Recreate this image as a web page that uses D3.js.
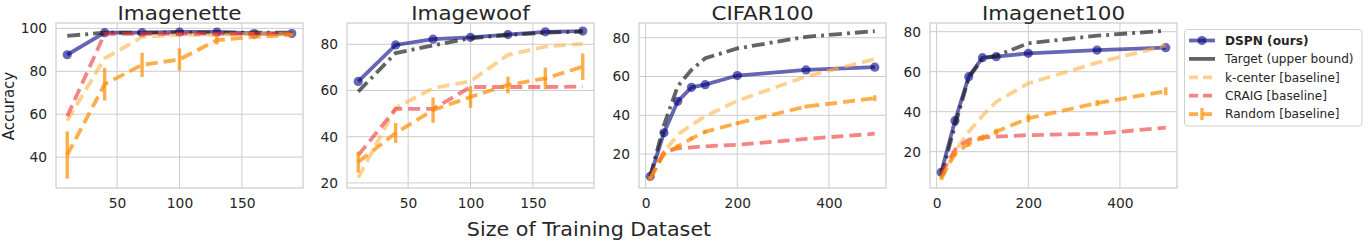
<!DOCTYPE html>
<html><head><meta charset="utf-8">
<script src="https://cdn.jsdelivr.net/npm/d3@7"></script>
<style>body{margin:0;background:#fff}svg{display:block;font-family:"DejaVu Sans",sans-serif}</style>
</head><body><svg id="c" width="1367" height="242"></svg>
<script>
// ---------- data ----------
const datasets = ["Imagenette", "Imagewoof", "CIFAR100", "Imagenet100"];
const xSmall = [10, 40, 70, 100, 130, 160, 190];
const xLarge = [10, 40, 70, 100, 130, 200, 350, 500];
const xValues = [xSmall, xSmall, xLarge, xLarge];

const dspn    = [[87.7, 98, 98, 98.3, 98.3, 97.6, 97.6],
                 [63.9, 79.7, 82.2, 83, 84.2, 85.4, 85.7],
                 [8.5, 31, 47.2, 54.4, 55.8, 60.5, 63.4, 64.8],
                 [9.7, 35.5, 57.5, 67, 67.5, 69.2, 70.8, 72]];
const target  = [[96.5, 98, 98, 98, 98, 98, 98],
                 [59.5, 76.2, 79.5, 82.6, 84, 85, 85.5],
                 [8.5, 35, 55, 63.4, 69.4, 74.5, 80.5, 83.4],
                 [8, 33, 57, 66.5, 68, 74.2, 78, 80.5]];
const kcenter = [[57, 86, 96, 97, 97, 97.5, 97.5],
                 [22.3, 52.4, 61, 64, 75.4, 79, 80.2],
                 [7, 21, 30, 35, 39.5, 47.5, 60, 69],
                 [6, 20, 30, 38, 45, 54.2, 64.5, 73]];
const craig   = [[59, 97.5, 97.5, 97.5, 97.5, 97.5, 97.5],
                 [32, 52, 52, 61.5, 61.5, 61.5, 61.7],
                 [7.5, 21, 23, 23.5, 24, 24.8, 27.8, 30.5],
                 [9, 21, 26, 27, 27.5, 28.3, 29, 32]];
const randomMean = [[41, 74, 83, 85.5, 94.5, 96, 97],
                    [29, 41.6, 51.5, 57.2, 62.4, 65.2, 70.3],
                    [7.5, 20, 24, 28, 31.5, 35.9, 44.5, 48.8],
                    [7, 19, 24, 27, 30, 36.7, 44.3, 50.2]];
const randomErr  = [[11, 7.6, 5.6, 5.2, 2, 1, 0.8],
                    [4.5, 4.3, 5.5, 4.7, 3.6, 4.7, 5.7],
                    [1, 1, 1, 1, 1, 1, 1, 1.5],
                    [1, 1.5, 1.5, 1.5, 1.5, 2, 1.5, 2]];
const yDomains = [[25.6, 102.5], [17.8, 89.2], [2.5, 87.6], [1.85, 84.35]];
const xDomains = [[1, 199], [1, 199], [-14.5, 524.5], [-14.5, 524.5]];
const yTicks = [[40, 60, 80, 100], [20, 40, 60, 80], [20, 40, 60, 80], [20, 40, 60, 80]];
const xTicks = [[50, 100, 150], [50, 100, 150], [0, 200, 400], [0, 200, 400]];
const legendLabels = ["DSPN (ours)", "Target (upper bound)", "k-center [baseline]", "CRAIG [baseline]", "Random [baseline]"];

// ---------- layout / style ----------
const panelLeft = [56, 347, 639, 930];
const panelWidth = 247;
const plotTop = 23, plotBottom = 188;
const styles = [
  {color: "#000080", op: 0.6, w: 3.8, dash: null, marker: true},
  {color: "#222222", op: 0.7, w: 3.8, dash: "13,5,3,5", marker: false},
  {color: "#ffb347", op: 0.6, w: 3.8, dash: "12,6", marker: false},
  {color: "#ee3333", op: 0.6, w: 3.8, dash: "12,6", marker: false},
  {color: "#ff8c00", op: 0.7, w: 3.8, dash: "12,6", marker: false}
];
const gridColor = "#cccccc", txt = "#262626";

const svg = d3.select("#c");

function wideText(parent, x, y, sx, size, str, anchor) {
  return parent.append("text").attr("transform", `translate(${x},${y}) scale(${sx},1)`)
    .attr("text-anchor", anchor || "middle").attr("fill", txt).style("font-size", size + "px").text(str);
}

datasets.forEach((name, i) => {
  const x = d3.scaleLinear().domain(xDomains[i]).range([panelLeft[i], panelLeft[i] + panelWidth]);
  const y = d3.scaleLinear().domain(yDomains[i]).range([plotBottom, plotTop]);
  const g = svg.append("g");

  g.selectAll(".gx").data(xTicks[i]).join("line")
    .attr("x1", d => x(d)).attr("x2", d => x(d)).attr("y1", plotTop).attr("y2", plotBottom)
    .attr("stroke", gridColor).attr("stroke-width", 1);
  g.selectAll(".gy").data(yTicks[i]).join("line")
    .attr("y1", d => y(d)).attr("y2", d => y(d)).attr("x1", panelLeft[i]).attr("x2", panelLeft[i] + panelWidth)
    .attr("stroke", gridColor).attr("stroke-width", 1);
  g.append("rect").attr("x", panelLeft[i]).attr("y", plotTop).attr("width", panelWidth).attr("height", plotBottom - plotTop)
    .attr("fill", "none").attr("stroke", gridColor).attr("stroke-width", 1.2);

  const ax = g.append("g").attr("transform", `translate(0,${plotBottom})`)
    .call(d3.axisBottom(x).tickValues(xTicks[i]).tickSize(0).tickPadding(10));
  const ay = g.append("g").attr("transform", `translate(${panelLeft[i]},0)`)
    .call(d3.axisLeft(y).tickValues(yTicks[i]).tickSize(0).tickPadding(9));
  [ax, ay].forEach(a => {
    a.select(".domain").remove();
    a.selectAll("text").attr("fill", txt).style("font-size", "13.8px").style("font-family", "DejaVu Sans");
  });

  wideText(g, panelLeft[i] + panelWidth / 2, 19.5, 1.1, 19.5, name);

  const xs = xValues[i];
  const series = [dspn[i], target[i], kcenter[i], craig[i], randomMean[i]];
  const line = d3.line().x((d, j) => x(xs[j])).y(d => y(d));
  series.forEach((vals, s) => {
    const st = styles[s];
    const sg = g.append("g");
    sg.append("path").datum(vals).attr("d", line).attr("fill", "none")
      .attr("stroke", st.color).attr("stroke-opacity", st.op).attr("stroke-width", st.w)
      .attr("stroke-dasharray", st.dash);
    if (st.marker) {
      sg.selectAll("circle").data(vals).join("circle")
        .attr("cx", (d, j) => x(xs[j])).attr("cy", d => y(d)).attr("r", 4.6)
        .attr("fill", st.color).attr("fill-opacity", st.op);
    }
    if (s === 4) {
      sg.selectAll(".eb").data(vals).join("line")
        .attr("x1", (d, j) => x(xs[j])).attr("x2", (d, j) => x(xs[j]))
        .attr("y1", (d, j) => y(d - randomErr[i][j])).attr("y2", (d, j) => y(d + randomErr[i][j]))
        .attr("stroke", st.color).attr("stroke-opacity", st.op).attr("stroke-width", 3.4);
    }
  });
});

svg.append("text").attr("transform", "translate(14,106) rotate(-90)").attr("text-anchor", "middle")
  .attr("fill", txt).style("font-size", "15px").text("Accuracy");
wideText(svg, 589, 236, 1.06, 19.5, "Size of Training Dataset");

const lg = svg.append("g");
lg.append("rect").attr("x", 1184.5).attr("y", 29.5).attr("width", 177.5).attr("height", 96.5).attr("rx", 3)
  .attr("fill", "#fff").attr("fill-opacity", 0.8).attr("stroke", "#d0d0d0").attr("stroke-width", 1);
legendLabels.forEach((lab, k) => {
  const yy = 40.5 + k * 18.4;
  const st = styles[k];
  lg.append("line").attr("x1", 1189).attr("x2", 1215).attr("y1", yy).attr("y2", yy)
    .attr("stroke", st.color).attr("stroke-opacity", st.op).attr("stroke-width", st.w)
    .attr("stroke-dasharray", k >= 2 ? "9,5" : null);
  if (k === 0) lg.append("circle").attr("cx", 1202).attr("cy", yy).attr("r", 4.6).attr("fill", st.color).attr("fill-opacity", st.op);
  if (k === 4) lg.append("line").attr("x1", 1202).attr("x2", 1202).attr("y1", yy - 6).attr("y2", yy + 6)
    .attr("stroke", st.color).attr("stroke-opacity", st.op).attr("stroke-width", 3.4);
  wideText(lg, 1225, yy + 4.3, 1.03, 11.8, lab, "start").style("font-weight", k === 0 ? "bold" : "normal");
});
</script></body></html>
